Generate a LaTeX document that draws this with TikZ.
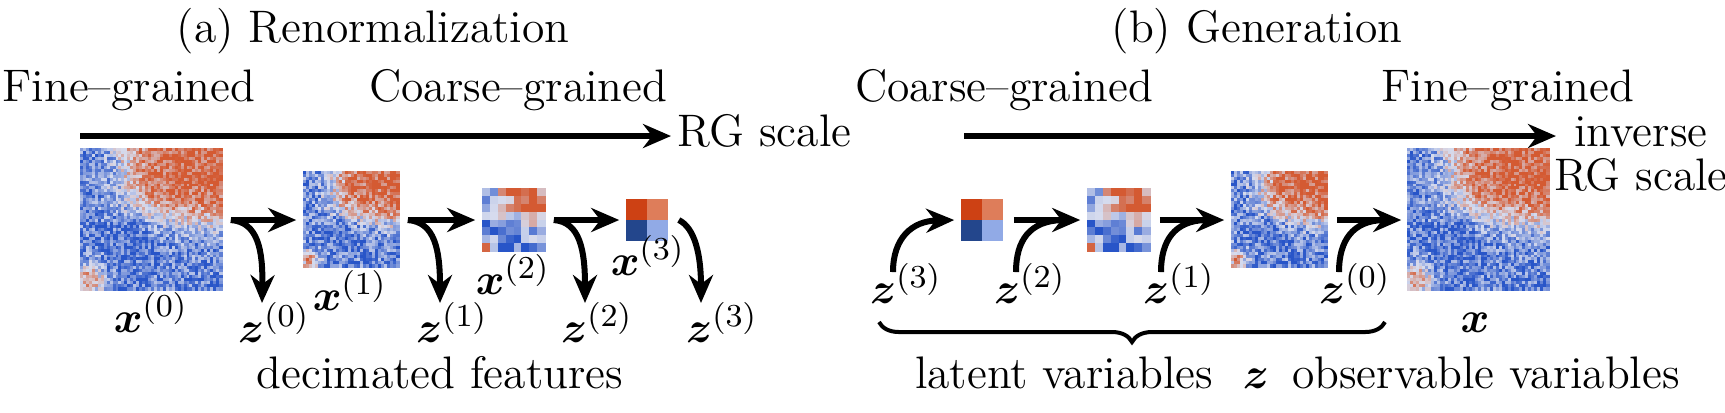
\documentclass[tikz,border=0pt]{standalone}
\usepackage{bm}
\usetikzlibrary{arrows.meta,calc,decorations.pathreplacing}
\definecolor{myred}{RGB}{212,90,50}
\definecolor{myblue}{RGB}{40,85,200}
\definecolor{mywhite}{RGB}{215,220,238}
\definecolor{qa}{RGB}{205,65,20}
\definecolor{qb}{RGB}{222,125,90}
\definecolor{qc}{RGB}{35,70,140}
\definecolor{qd}{RGB}{145,170,230}
\newcommand\fieldimg[6]{%
 \pgfmathsetseed{#5}%
 \pgfmathsetmacro\cs{#3/#4}%
 \foreach \i in {1,...,#4}{\foreach \j in {1,...,#4}{%
   \pgfmathsetmacro\uu{(\i-0.5)/#4}%
   \pgfmathsetmacro\vv{(\j-0.5)/#4}%
   \pgfmathsetmacro\rr{1/(1+exp(-14*(0.47-\vv+0.1*(\uu-0.5))))/(1+exp(-12*(\uu-0.33)))}%
   \pgfmathsetmacro\tt{-0.7+1.7*\rr+1.4*exp(-((\uu-0.06)^2+(\vv-0.93)^2)/0.012)-0.3*exp(-((\uu-0.4)^2+(\vv-0.62)^2)/0.03)+#6*(rnd-0.5)}%
   \pgfmathsetmacro\pp{min(100,abs(\tt)*90)}%
   \pgfmathtruncatemacro\sg{\tt>0}%
   \ifnum\sg=1 \def\cc{myred}\else\def\cc{myblue}\fi
   \fill[\cc!\pp!mywhite] ({#1+(\i-1)*\cs},{#2+(\j-1)*\cs}) rectangle ++({\cs+0.7},{\cs+0.7});
 }}}
\newcommand\quadimg[3]{% left, top, size
 \pgfmathsetmacro\hs{#3/2}%
 \fill[qa] (#1,#2) rectangle ++(\hs,\hs);
 \fill[qb] ({#1+\hs},#2) rectangle ++(\hs,\hs);
 \fill[qc] (#1,{#2+\hs}) rectangle ++(\hs,\hs);
 \fill[qd] ({#1+\hs},{#2+\hs}) rectangle ++(\hs,\hs);}
\begin{document}
\begin{tikzpicture}[x=0.25pt,y=-0.25pt,
  txt/.style={inner sep=0,font=\fontsize{11.4}{13}\selectfont,anchor=base},
  img/.style={inner sep=0,minimum size=#1*0.25pt,draw=none},
  arr/.style={line width=1.5pt,-{Stealth[length=7pt,width=6pt]}},
  ln/.style={line width=1.5pt}]
\useasboundingbox (0,0) rectangle (1725,412);
% titles
\node[txt] (ta) at (373,42) {(a) Renormalization};
\node[txt] (tb) at (1257,42) {(b) Generation};
\node[txt,anchor=base west] (fa) at (2,101) {Fine--grained};
\node[txt,anchor=base east] (ca) at (668,101) {Coarse--grained};
\node[txt] (cb) at (1004,101) {Coarse--grained};
\node[txt] (fb) at (1508,101) {Fine--grained};
% scale arrows
\node[txt,anchor=base west] (rga) at (677,146) {RG scale};
\coordinate (sa) at (80,136);
\draw[arr] (sa) -- ($(rga.base west)+(-6,-10)$);
\node[txt] (inv) at (1641,146) {inverse};
\node[txt] (rgb) at (1641,190) {RG scale};
\coordinate (sb) at (964,136);
\coordinate (eb) at (1556,136);
\draw[arr] (sb) -- (eb);
% (a) images
\fieldimg{80}{148}{142}{48}{11}{1.1}
\node[img=142] (a0) at (151,219) {};
\fieldimg{303}{171}{96}{32}{23}{1.2}
\node[img=96] (a1) at (351,219) {};
\fieldimg{482}{188}{63}{8}{37}{1.5}
\node[img=63] (a2) at (513.5,219.5) {};
\quadimg{626}{199}{42}
\node[img=42] (a3) at (647,220) {};
% (a) labels
\node[txt] (lx0) at (151,332) {$\bm{x}^{(0)}$};
\node[txt] (lx1) at (350,310) {$\bm{x}^{(1)}$};
\node[txt] (lx2) at (513,294) {$\bm{x}^{(2)}$};
\node[txt] (lx3) at (648,275) {$\bm{x}^{(3)}$};
\node[txt] (z0) at (274,342) {$\bm{z}^{(0)}$};
\node[txt] (z1) at (452,342) {$\bm{z}^{(1)}$};
\node[txt] (z2) at (597,342) {$\bm{z}^{(2)}$};
\node[txt] (z3) at (722,342) {$\bm{z}^{(3)}$};
\node[txt] (dec) at (440,388) {decimated features};
% (a) arrows
\draw[arr] ($(a0.east)+(8,1)$) -- ($(a1.west)+(-6,1)$);
\draw[arr] ($(a0.east)+(8,1)$) .. controls (258,222) and (263,250) .. (262,303);
\draw[arr] ($(a1.east)+(8,1)$) -- ($(a2.west)+(-6,0.5)$);
\draw[arr] ($(a1.east)+(8,1)$) .. controls (435,222) and (440,250) .. (440,303);
\draw[arr] ($(a2.east)+(8,0.5)$) -- ($(a3.west)+(-6,0)$);
\draw[arr] ($(a2.east)+(8,0.5)$) .. controls (580,222) and (585,250) .. (585,303);
\draw[arr] ($(a3.east)+(10,0)$) .. controls (695,228) and (701,255) .. (701,303);
% (b) images
\quadimg{961}{199}{42}
\node[img=42] (b3) at (982,220) {};
\fieldimg{1087}{188}{63}{8}{37}{1.5}
\node[img=63] (b2) at (1118.5,219.5) {};
\fieldimg{1231}{171}{96}{32}{23}{1.2}
\node[img=96] (b1) at (1279,219) {};
\fieldimg{1407}{148}{142}{48}{11}{1.1}
\node[img=142] (b0) at (1478,219) {};
% (b) labels
\node[txt] (w3) at (906,303) {$\bm{z}^{(3)}$};
\node[txt] (w2) at (1030,303) {$\bm{z}^{(2)}$};
\node[txt] (w1) at (1179,303) {$\bm{z}^{(1)}$};
\node[txt] (w0) at (1355,303) {$\bm{z}^{(0)}$};
\node[txt] (lx) at (1475,332) {$\bm{x}$};
\node[txt] (lat) at (1092,388) {latent variables\ \ $\bm{z}$};
\node[txt] (obs) at (1486,388) {observable variables};
% (b) arrows
\coordinate (s3) at (893,272);
\draw[arr] (s3) .. controls (893,238) and (912,221) .. ($(b3.west)+(-6,0)$);
\coordinate (s2) at (1016,272);
\draw[ln] (s2) .. controls (1016,240) and (1030,221) .. (1062,220);
\draw[arr] ($(b3.east)+(10,0)$) -- ($(b2.west)+(-6,0.5)$);
\coordinate (s1) at (1161,272);
\draw[ln] (s1) .. controls (1161,240) and (1175,221) .. (1205,220);
\draw[arr] ($(b2.east)+(9,0.5)$) -- ($(b1.west)+(-6,1)$);
\coordinate (s0) at (1339,272);
\draw[ln] (s0) .. controls (1339,240) and (1353,221) .. (1383,220);
\draw[arr] ($(b1.east)+(9,1)$) -- ($(b0.west)+(-5,1)$);
% brace
\coordinate (br1) at (879,322);
\coordinate (br2) at (1385,322);
\draw[line width=1pt,decorate,decoration={brace,mirror,amplitude=5pt}] (br1) -- (br2);
\end{tikzpicture}
\end{document}
